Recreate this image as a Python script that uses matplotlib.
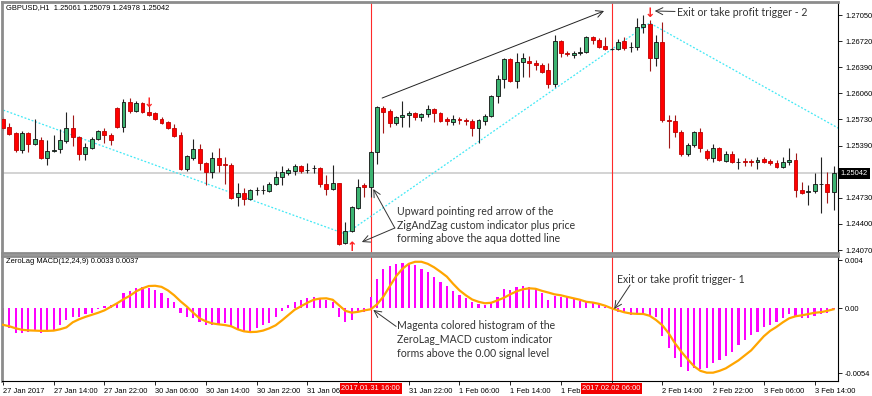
import matplotlib
matplotlib.use("Agg")
import matplotlib.pyplot as plt
from matplotlib.transforms import blended_transform_factory
import numpy as np

plt.rcParams['font.family'] = ['Liberation Sans', 'DejaVu Sans']

# ----------------------------
# GBPUSD H1 candles (27 Jan 06:00 .. 3 Feb 17:00)
# ----------------------------
open_ = [1.25731, 1.25630, 1.25554, 1.25338, 1.25554, 1.25414, 1.25465, 1.25237, 1.25325, 1.25351,
         1.25452, 1.25617, 1.25503, 1.25287, 1.25363, 1.25477, 1.25579, 1.25528, 1.25871, 1.25630,
         1.25947, 1.25833, 1.25934, 1.25820, 1.25807, 1.25731, 1.25693, 1.25617, 1.25528, 1.25097,
         1.25237, 1.25351, 1.25173, 1.25059, 1.25237, 1.25160, 1.25148, 1.24742, 1.24793, 1.24717,
         1.24831, 1.24831, 1.24818, 1.24907, 1.24996, 1.25046, 1.25072, 1.25135, 1.25084, 1.25110,
         1.25110, 1.24907, 1.24843, 1.24920, 1.24159, 1.24311, 1.24603, 1.24894, 1.24869, 1.25313,
         1.25871, 1.25833, 1.25680, 1.25756, 1.25782, 1.25807, 1.25756, 1.25794, 1.25858, 1.25807,
         1.25731, 1.25693, 1.25731, 1.25718, 1.25706, 1.25617, 1.25706, 1.25769, 1.26023, 1.26238,
         1.26492, 1.26213, 1.26454, 1.26467, 1.26441, 1.26416, 1.26352, 1.26175, 1.26720, 1.26568,
         1.26543, 1.26568, 1.26581, 1.26771, 1.26733, 1.26657, 1.26619, 1.26619, 1.26720, 1.26644,
         1.26644, 1.26898, 1.26936, 1.26505, 1.26707, 1.25718, 1.25706, 1.25566, 1.25287, 1.25401,
         1.25566, 1.25325, 1.25237, 1.25363, 1.25199, 1.25287, 1.25186, 1.25199, 1.25199, 1.25186,
         1.25224, 1.25199, 1.25173, 1.25122, 1.25186, 1.25211, 1.24831, 1.24805, 1.24818, 1.24907,
         1.24907, 1.24805]
high = [1.25756, 1.25680, 1.25566, 1.25579, 1.25566, 1.25731, 1.25503, 1.25465, 1.25528, 1.25604,
        1.25820, 1.25782, 1.25516, 1.25427, 1.25503, 1.25592, 1.25617, 1.25554, 1.25883, 1.25985,
        1.25997, 1.25959, 1.25947, 1.25896, 1.25820, 1.25756, 1.25706, 1.25668, 1.25566, 1.25275,
        1.25477, 1.25414, 1.25186, 1.25313, 1.25363, 1.25249, 1.25173, 1.24920, 1.24856, 1.24843,
        1.24869, 1.24894, 1.24932, 1.25072, 1.25135, 1.25110, 1.25160, 1.25148, 1.25173, 1.25148,
        1.25122, 1.25021, 1.25148, 1.24925, 1.24425, 1.24628, 1.24970, 1.24920, 1.25325, 1.25896,
        1.25896, 1.25858, 1.25769, 1.25959, 1.25833, 1.25820, 1.25807, 1.25909, 1.25871, 1.25820,
        1.25756, 1.25782, 1.25756, 1.25744, 1.25731, 1.25731, 1.25794, 1.26035, 1.26289, 1.26505,
        1.26505, 1.26568, 1.26568, 1.26530, 1.26479, 1.26441, 1.26441, 1.26796, 1.26733, 1.26593,
        1.26593, 1.26644, 1.26784, 1.26784, 1.26758, 1.26771, 1.26631, 1.26745, 1.26771, 1.26707,
        1.27012, 1.27050, 1.26986, 1.26796, 1.26961, 1.25782, 1.25782, 1.25592, 1.25427, 1.25579,
        1.25617, 1.25351, 1.25414, 1.25376, 1.25325, 1.25325, 1.25237, 1.25237, 1.25224, 1.25249,
        1.25249, 1.25224, 1.25211, 1.25249, 1.25363, 1.25300, 1.24932, 1.24894, 1.25046, 1.25249,
        1.25059, 1.25135]
low = [1.25592, 1.25528, 1.25313, 1.25300, 1.25313, 1.25401, 1.25224, 1.25148, 1.25313, 1.25300,
       1.25427, 1.25389, 1.25211, 1.25211, 1.25351, 1.25465, 1.25427, 1.25401, 1.25617, 1.25566,
       1.25807, 1.25820, 1.25807, 1.25769, 1.25718, 1.25668, 1.25604, 1.25503, 1.25084, 1.25072,
       1.25211, 1.25084, 1.24894, 1.24983, 1.25059, 1.24907, 1.24717, 1.24628, 1.24641, 1.24704,
       1.24767, 1.24780, 1.24805, 1.24894, 1.24894, 1.25021, 1.25021, 1.25046, 1.25046, 1.25046,
       1.24869, 1.24767, 1.24831, 1.24133, 1.24146, 1.24298, 1.24590, 1.24742, 1.24742, 1.25160,
       1.25554, 1.25630, 1.25655, 1.25630, 1.25630, 1.25718, 1.25706, 1.25756, 1.25693, 1.25693,
       1.25655, 1.25655, 1.25668, 1.25655, 1.25516, 1.25427, 1.25655, 1.25756, 1.25934, 1.26124,
       1.26200, 1.26124, 1.26264, 1.26264, 1.26352, 1.26314, 1.26124, 1.26137, 1.26517, 1.26530,
       1.26505, 1.26543, 1.26568, 1.26682, 1.26631, 1.26606, 1.26606, 1.26606, 1.26606, 1.26581,
       1.26606, 1.26822, 1.26340, 1.26403, 1.25693, 1.25363, 1.25503, 1.25262, 1.25262, 1.25376,
       1.25313, 1.25211, 1.25186, 1.25199, 1.25186, 1.25173, 1.25097, 1.25135, 1.25135, 1.25097,
       1.25173, 1.25148, 1.25110, 1.25110, 1.25148, 1.24742, 1.24780, 1.24641, 1.24793, 1.24539,
       1.24666, 1.24577]
close = [1.25617, 1.25541, 1.25338, 1.25554, 1.25414, 1.25477, 1.25237, 1.25325, 1.25338, 1.25465,
         1.25617, 1.25503, 1.25287, 1.25376, 1.25477, 1.25579, 1.25528, 1.25465, 1.25630, 1.25947,
         1.25833, 1.25934, 1.25820, 1.25782, 1.25731, 1.25680, 1.25617, 1.25516, 1.25097, 1.25262,
         1.25351, 1.25173, 1.25059, 1.25237, 1.25148, 1.25148, 1.24729, 1.24793, 1.24717, 1.24831,
         1.24833, 1.24833, 1.24907, 1.24996, 1.25059, 1.25084, 1.25135, 1.25072, 1.25086, 1.25112,
         1.24907, 1.24843, 1.24920, 1.24146, 1.24311, 1.24615, 1.24869, 1.24869, 1.25313, 1.25883,
         1.25820, 1.25680, 1.25756, 1.25782, 1.25807, 1.25756, 1.25794, 1.25858, 1.25807, 1.25706,
         1.25706, 1.25731, 1.25718, 1.25706, 1.25617, 1.25718, 1.25769, 1.26023, 1.26238, 1.26492,
         1.26213, 1.26454, 1.26505, 1.26441, 1.26416, 1.26327, 1.26175, 1.26720, 1.26568, 1.26555,
         1.26568, 1.26581, 1.26771, 1.26733, 1.26644, 1.26619, 1.26621, 1.26707, 1.26631, 1.26646,
         1.26898, 1.26936, 1.26505, 1.26707, 1.25718, 1.25706, 1.25566, 1.25287, 1.25401, 1.25566,
         1.25363, 1.25237, 1.25363, 1.25211, 1.25287, 1.25186, 1.25188, 1.25186, 1.25186, 1.25211,
         1.25186, 1.25173, 1.25122, 1.25186, 1.25211, 1.24831, 1.24793, 1.24818, 1.24907, 1.24909,
         1.24805, 1.25042]

# ZeroLag MACD histogram and signal line
macd_hist = [-0.00130, -0.00166, -0.00208, -0.00202, -0.00199, -0.00188, -0.00208, -0.00188, -0.00185, -0.00139,
             -0.00097, -0.00069, -0.00069, -0.00050, -0.00042, -0.00008, 0.00019, 0.00027, 0.00047, 0.00125,
             0.00147, 0.00172, 0.00180, 0.00172, 0.00152, 0.00125, 0.00089, 0.00056, -0.00042, -0.00075,
             -0.00083, -0.00110, -0.00139, -0.00139, -0.00130, -0.00125, -0.00152, -0.00180, -0.00193, -0.00193,
             -0.00166, -0.00139, -0.00119, -0.00069, -0.00022, 0.00027, 0.00050, 0.00069, 0.00083, 0.00091,
             0.00083, 0.00069, 0.00056, -0.00069, -0.00110, -0.00097, -0.00027, -0.00027, 0.00097, 0.00241,
             0.00326, 0.00354, 0.00368, 0.00374, 0.00379, 0.00359, 0.00324, 0.00305, 0.00263, 0.00222,
             0.00185, 0.00147, 0.00110, 0.00083, 0.00056, 0.00036, 0.00027, 0.00042, 0.00097, 0.00158,
             0.00152, 0.00174, 0.00185, 0.00180, 0.00158, 0.00130, 0.00069, 0.00102, 0.00097, 0.00097,
             0.00083, 0.00058, 0.00050, 0.00042, 0.00033, 0.00008, 0.00001, -0.00027, -0.00042, -0.00056,
             -0.00042, -0.00042, -0.00056, -0.00069, -0.00230, -0.00332, -0.00415, -0.00490, -0.00517, -0.00498,
             -0.00506, -0.00498, -0.00457, -0.00429, -0.00396, -0.00359, -0.00305, -0.00263, -0.00222, -0.00193,
             -0.00158, -0.00139, -0.00110, -0.00083, -0.00047, -0.00064, -0.00083, -0.00083, -0.00064, -0.00047,
             -0.00036, -0.00008]
macd_signal = [-0.00137, -0.00149, -0.00166, -0.00178, -0.00183, -0.00185, -0.00187, -0.00187, -0.00185, -0.00174,
               -0.00158, -0.00116, -0.00091, -0.00071, -0.00054, -0.00037, -0.00017, 0.00012, 0.00042, 0.00075,
               0.00104, 0.00141, 0.00166, 0.00185, 0.00187, 0.00178, 0.00149, 0.00108, 0.00058, 0.00014,
               -0.00037, -0.00083, -0.00108, -0.00125, -0.00133, -0.00139, -0.00149, -0.00174, -0.00191, -0.00197,
               -0.00195, -0.00185, -0.00166, -0.00141, -0.00100, -0.00056, -0.00012, 0.00017, 0.00046, 0.00071,
               0.00081, 0.00083, 0.00071, 0.00025, -0.00021, -0.00036, -0.00029, -0.00017, -0.00008, 0.00033,
               0.00097, 0.00183, 0.00266, 0.00328, 0.00369, 0.00386, 0.00386, 0.00369, 0.00340, 0.00303,
               0.00263, 0.00203, 0.00149, 0.00108, 0.00073, 0.00054, 0.00042, 0.00046, 0.00066, 0.00087,
               0.00116, 0.00141, 0.00158, 0.00166, 0.00162, 0.00145, 0.00131, 0.00116, 0.00108, 0.00095,
               0.00083, 0.00071, 0.00054, 0.00048, 0.00037, 0.00021, 0.00000, -0.00017, -0.00033, -0.00043,
               -0.00046, -0.00047, -0.00062, -0.00097, -0.00141, -0.00208, -0.00291, -0.00361, -0.00423, -0.00481,
               -0.00519, -0.00534, -0.00534, -0.00519, -0.00498, -0.00465, -0.00432, -0.00390, -0.00349, -0.00291,
               -0.00232, -0.00187, -0.00154, -0.00116, -0.00083, -0.00066, -0.00058, -0.00048, -0.00037, -0.00032,
               -0.00021, -0.00008]

# ZigZag (aqua dotted) turning points: bar index / price
zz_bar = [-0.5, 54, 102, 132]
zz_price = [1.25860, 1.24273, 1.26949, 1.25604]

# ZigZag arrows: bar index, price, direction
arrow_bar = [23, 55, 102]
arrow_price = [1.25934, 1.24108, 1.27063]
arrow_sym = ['↓', '↑', '↓']

price_ticks = [1.27050, 1.26720, 1.26390, 1.26060, 1.25730, 1.25390, 1.24730, 1.24400, 1.24070]
last_price = 1.25042

# time axis: labels partly hidden behind the red marker boxes are cut as on screen
time_ticks = [0, 8, 16, 24, 32, 40, 48, 56, 64, 72, 80, 88, 96, 104, 112, 120, 128]
time_labels = ['27 Jan 2017', '27 Jan 14:00', '27 Jan 22:00', '30 Jan 06:00', '30 Jan 14:00',
               '30 Jan 22:00', '31 Jan 06', '', '31 Jan 22:00', '1 Feb 06:00',
               '1 Feb 14:00', '1 Feb', '', '2 Feb 14:00', '2 Feb 22:00',
               '3 Feb 06:00', '3 Feb 14:00']
marked_bars = [58, 96]
marked_labels = ['2017.01.31 16:00', '2017.02.02 06:00']

# ----------------------------
# figure
# ----------------------------
o = np.array(open_); h = np.array(high); l = np.array(low); c = np.array(close)
x = np.arange(len(c))
up = c >= o

fig = plt.figure(figsize=(8.72, 3.96), dpi=100)
ax = fig.add_axes([0.00229, 0.36111, 0.95872, 0.63384])
ax2 = fig.add_axes([0.00229, 0.03788, 0.95872, 0.31566])

grey = '#8C8C8C'
for a in (ax, ax2):
    a.set_xlim(-0.16, 131.7)
    a.spines['left'].set_color(grey); a.spines['left'].set_linewidth(2)
    a.spines['top'].set_color(grey); a.spines['top'].set_linewidth(2)
    a.spines['right'].set_color('black'); a.spines['right'].set_linewidth(0.8)
    a.yaxis.tick_right()
    a.tick_params(axis='y', length=3, width=0.6, labelsize=5.4, pad=2)
    for v in marked_bars:
        a.axvline(v, color='#FF2A2A', lw=0.8, zorder=1)
ax.spines['bottom'].set_color(grey); ax.spines['bottom'].set_linewidth(2)
ax2.spines['bottom'].set_linewidth(0.8)

# price panel
ax.set_ylim(1.24032, 1.27215)
ax.axhline(last_price, color='#CCCCCC', lw=1.2, zorder=0)
ax.plot(zz_bar, zz_price, color='#3FE8F5', lw=0.9, ls=(0, (1.5, 1.5)), zorder=1)
ax.vlines(x[up], l[up], h[up], color='#222222', lw=0.8, zorder=2)
ax.vlines(x[~up], l[~up], h[~up], color='#A01818', lw=0.8, zorder=2)
ax.bar(x[up], c[up] - o[up], bottom=o[up], width=0.62, color='#3CB371',
       edgecolor='#111111', lw=0.6, zorder=3)
ax.bar(x[~up], o[~up] - c[~up], bottom=c[~up], width=0.62, color='#FF0000',
       edgecolor='#C00000', lw=0.6, zorder=3)
for b, p, s in zip(arrow_bar, arrow_price, arrow_sym):
    ax.text(b, p, s, color='#FF2020', ha='center', va='center', fontsize=9,
            fontweight='bold', family='DejaVu Sans', zorder=4)

ax.set_xticks([])
ax.set_yticks(price_ticks)
ax.set_yticklabels(['%.5f' % v for v in price_ticks])
ax.text(1.003, last_price, '%.5f' % last_price, color='white', fontsize=5.4, va='center', ha='left',
        transform=blended_transform_factory(ax.transAxes, ax.transData), clip_on=False,
        bbox=dict(facecolor='black', edgecolor='none', pad=1.5), zorder=5)
ax.text(0.005, 0.976, 'GBPUSD,H1  1.25061 1.25079 1.24978 1.25042', transform=ax.transAxes,
        fontsize=5.4, va='center', ha='left')

# annotations in price panel
note_font = dict(family=['Lato', 'DejaVu Sans'], fontsize=7.6, color='#333333')
arr = dict(arrowstyle='->,head_length=0.5,head_width=0.25', color='#333333', lw=0.7,
           shrinkA=0, shrinkB=0)
ax.annotate('', xy=(94.8, 1.27101), xytext=(59.8, 1.25997),
            arrowprops=dict(arr, color='#222222'))
ax.text(62.1, 1.24628, 'Upward pointing red arrow of the\nZigAndZag custom indicator plus price\n'
        'forming above the aqua dotted line', va='top', ha='left', linespacing=1.3, **note_font)
ax.annotate('', xy=(58.4, 1.24843), xytext=(61.8, 1.24349), arrowprops=arr)
ax.annotate('', xy=(56.6, 1.24171), xytext=(61.8, 1.24349), arrowprops=arr)
ax.text(106.3, 1.27088, 'Exit or take profit trigger - 2', va='center', ha='left', **note_font)
ax.annotate('', xy=(102.8, 1.27101), xytext=(106.0, 1.27095), arrowprops=arr)

# MACD panel
ax2.set_ylim(-0.00603, 0.00434)
ax2.bar(x, macd_hist, width=0.34, color='#FF00FF', zorder=2)
ax2.plot(x, macd_signal, color='#FFA500', lw=1.6, zorder=3)
ax2.set_yticks([0.004, 0.0, -0.0054])
ax2.set_yticklabels(['0.004', '0.00', '-0.0054'])
ax2.text(0.005, 0.955, 'ZeroLag MACD(12,24,9) 0.0033 0.0037', transform=ax2.transAxes,
         fontsize=5.4, va='center', ha='left')
ax2.set_xticks(time_ticks)
ax2.set_xticklabels(time_labels)
ax2.tick_params(axis='x', length=3, width=0.6, labelsize=5.4, pad=2)
for lbl in ax2.get_xticklabels():
    lbl.set_horizontalalignment('left')
bt = blended_transform_factory(ax2.transData, ax2.transAxes)
for b, s in zip(marked_bars, marked_labels):
    ax2.text(b, -0.06, s, transform=bt, color='white', fontsize=5.4, ha='center', va='center',
             clip_on=False, bbox=dict(facecolor='#F20000', edgecolor='none', pad=1.2), zorder=6)

ax2.text(96.8, 0.00243, 'Exit or take profit trigger- 1', va='center', ha='left', **note_font)
ax2.annotate('', xy=(96.4, -0.00006), xytext=(98.9, 0.00193), arrowprops=arr)
ax2.text(62.1, -0.00100, 'Magenta colored histogram of the\nZeroLag_MACD custom indicator\n'
         'forms above the 0.00 signal level', va='top', ha='left', linespacing=1.3, **note_font)
ax2.annotate('', xy=(58.4, -0.00014), xytext=(62.0, -0.00150), arrowprops=arr)

fig.savefig('out.png', dpi=100)
